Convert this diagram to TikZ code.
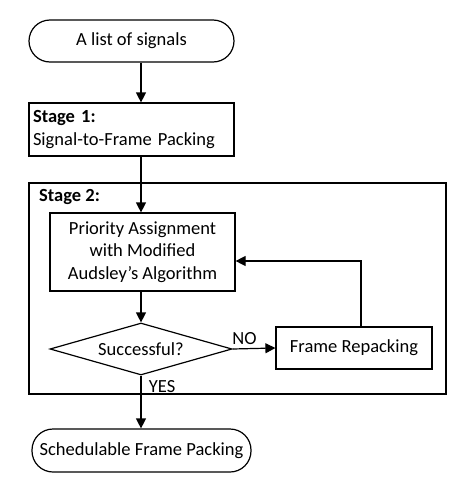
\documentclass[tikz,border=0pt]{standalone}
\usepackage{fontspec}
\setmainfont{Carlito}
\usetikzlibrary{arrows.meta,shapes.geometric}
\tikzset{
  box/.style={draw, line width=1.2pt, inner sep=4pt},
  terminal/.style={box, rounded corners=21pt},
  decision/.style={draw, line width=1.2pt, diamond, aspect=3.5, inner sep=1pt},
  arr/.style={line width=1.2pt, -{Triangle[length=10pt,width=10pt]}},
  flowline/.style={line width=1.2pt}
}
\begin{document}
\begin{tikzpicture}[x=1pt, y=-1pt, font=\fontsize{18.5}{22.5}\selectfont]
\useasboundingbox (0,0) rectangle (474,485);
\node[terminal, minimum width=205pt, minimum height=42pt] (start) at (131.5,41) {A list of signals};
\node[box, minimum width=205pt, minimum height=53pt, text width=197pt, align=left] (stageone) at (131.5,129.5) {\textbf{Stage 1:}\\Signal-to-Frame Packing};
\node[box, minimum width=417pt, minimum height=211pt] (stagetwo) at (237.5,288.5) {};
\node[anchor=north west, inner sep=0pt] (stagetwolabel) at (39,189) {\textbf{Stage 2:}};
\node[box, minimum width=185pt, minimum height=78pt, align=center] (prio) at (142.5,252) {Priority Assignment\\with Modified\\Audsley’s Algorithm};
\node[decision, minimum width=182pt, minimum height=52pt] (check) at (141,349) {Successful?};
\node[box, minimum width=156pt, minimum height=42pt] (repack) at (354,348) {Frame Repacking};
\node[terminal, minimum width=219pt, minimum height=43pt] (finish) at (141.5,450.5) {Schedulable Frame Packing};
\draw[arr] (start.south -| check) -- (stageone.north -| check);
\draw[arr] (stageone.south -| check) -- (prio.north -| check);
\draw[arr] (prio.south -| check) -- (check.north);
\draw[arr] (check.east) -- node[pos=0.28, above] {NO} (repack.west);
\draw[arr] ([xshift=7pt]repack.north) |- ([yshift=-9pt]prio.east);
\draw[arr] (check.south) -- node[pos=0.2, right, xshift=4pt] {YES} (finish.north -| check);
\end{tikzpicture}
\end{document}
